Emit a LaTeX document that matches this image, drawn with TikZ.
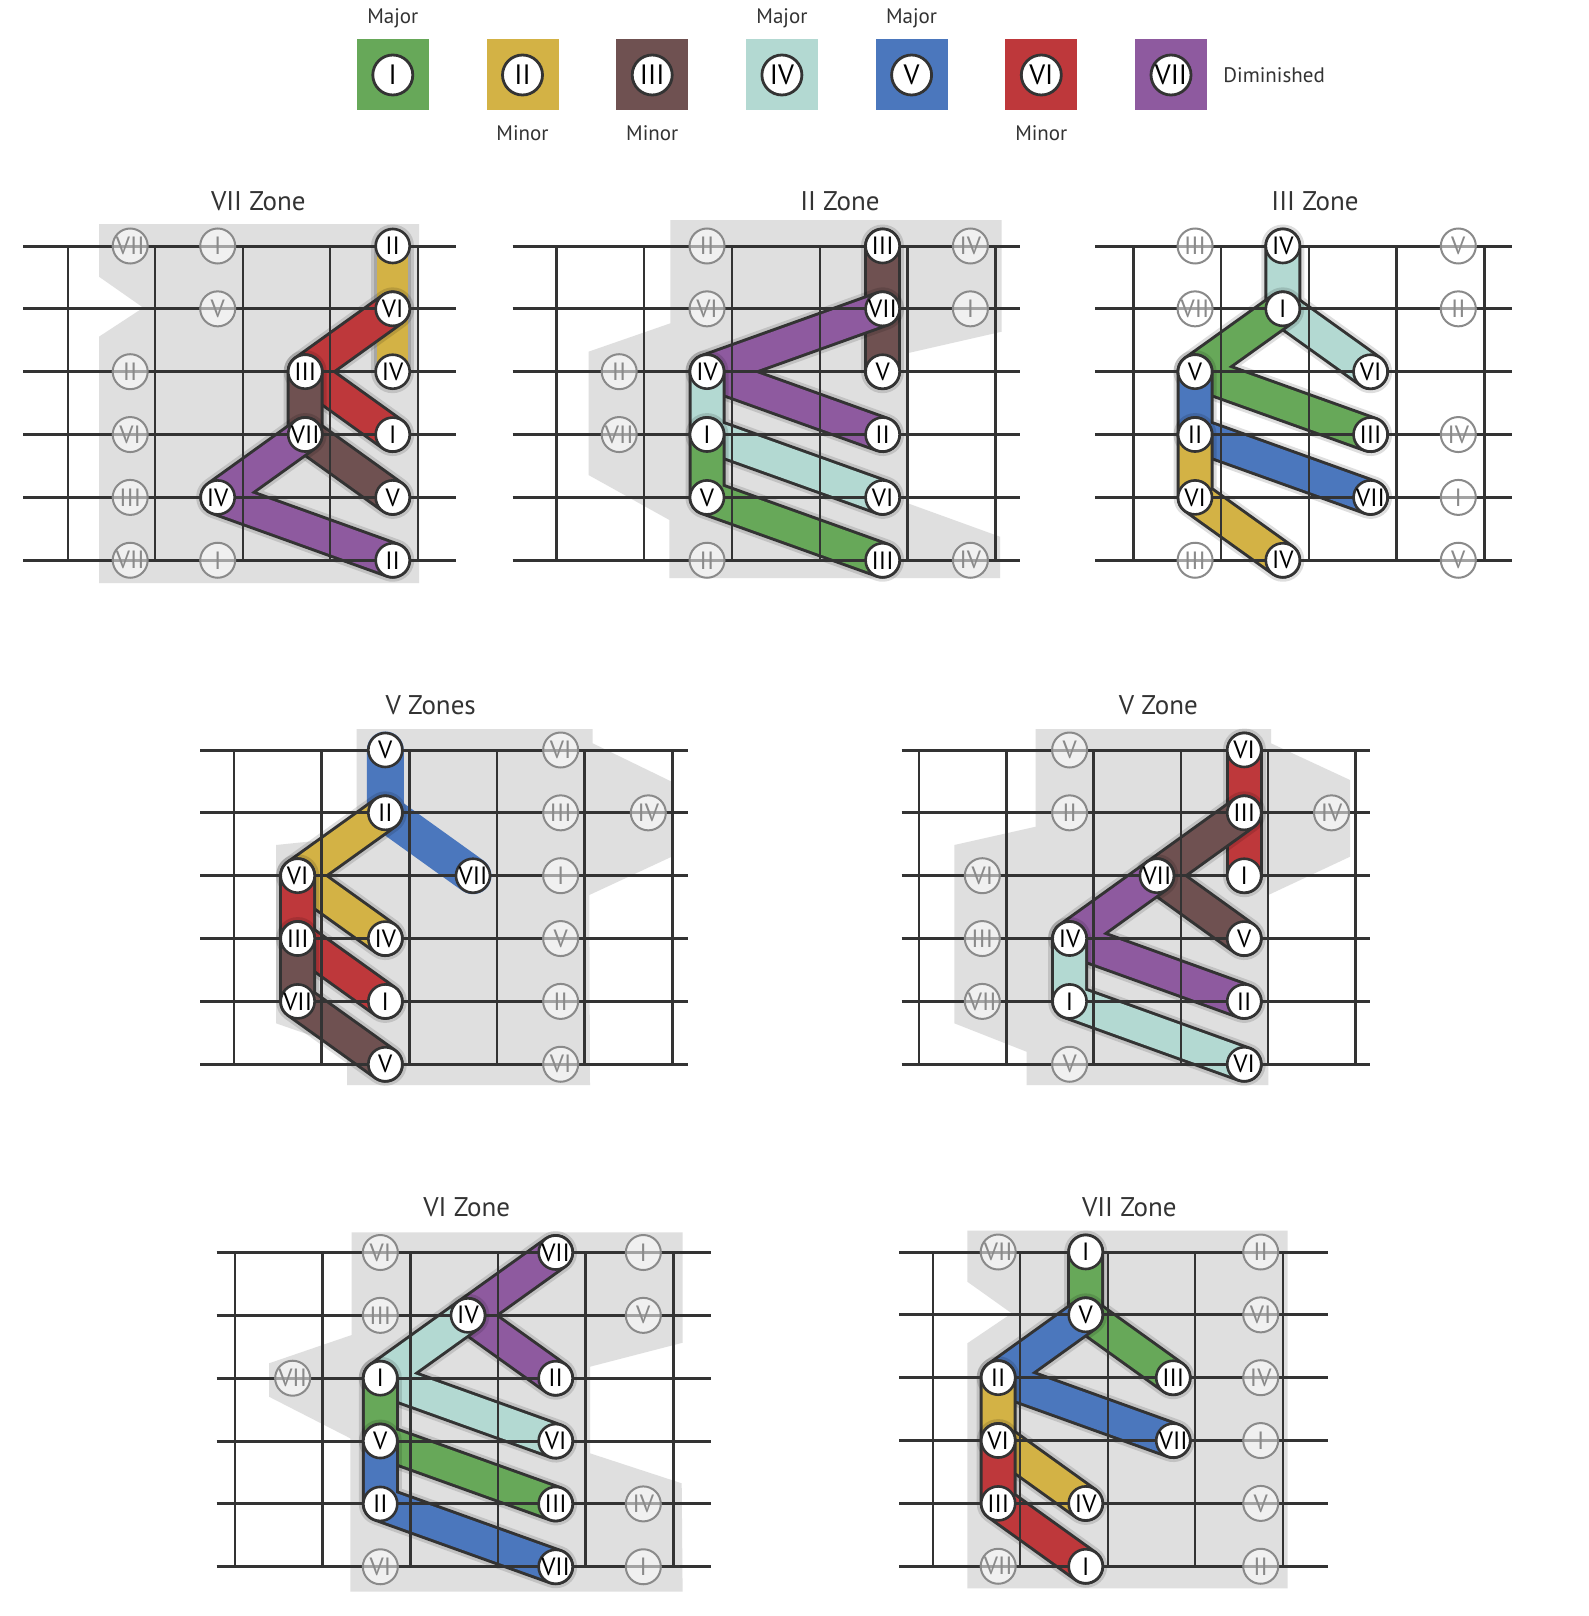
\documentclass[tikz,border=0pt]{standalone}
\usepackage{fontspec}
\setmainfont{PT Sans}
\usetikzlibrary{positioning}
\pgfdeclarelayer{zone}
\pgfdeclarelayer{bands}
\pgfdeclarelayer{grid}
\pgfsetlayers{zone,bands,grid,main}
\definecolor{cI}{HTML}{67A859}
\definecolor{cII}{HTML}{D3B245}
\definecolor{cIII}{HTML}{6F5151}
\definecolor{cIV}{HTML}{B3D9D2}
\definecolor{cV}{HTML}{4B77BD}
\definecolor{cVI}{HTML}{BE383B}
\definecolor{cVII}{HTML}{8E5A9F}
\definecolor{ink}{HTML}{333333}
\definecolor{ghostgray}{HTML}{8A8A8A}
\definecolor{zonegray}{HTML}{DFDFDF}
\newcommand{\notefont}{\fontsize{25}{25}\selectfont}
\newcommand{\sgap}{62.85}
\tikzset{
    stringline/.style={line width=3pt, draw=ink},
    fretline/.style={line width=2.4pt, draw=ink},
    zone/.style={fill=zonegray},
    note/.style={circle, draw=ink, line width=2.6pt, fill=white, minimum size=34pt, inner sep=0pt, font=\notefont, text=black},
    ghost/.style={circle, draw=ghostgray, line width=2pt, fill=white, fill opacity=0.55, text opacity=1, text=ghostgray, minimum size=35pt, inner sep=0pt, font=\notefont},
    band/.style={draw=ink, line width=3pt, double=#1, double distance=31pt, line cap=round, line join=round,
        preaction={draw=black, draw opacity=0.13, line width=43pt, line cap=round, line join=round}},
    flatband/.style={draw=#1, line width=37pt, line cap=round, line join=round},
    keybox/.style={rectangle, minimum width=72pt, minimum height=71pt, inner sep=0pt},
    keynum/.style={circle, draw=ink, line width=2.8pt, fill=white, minimum size=40pt, inner sep=0pt, font=\fontsize{28}{28}\selectfont},
    keylabel/.style={font=\fontsize{21}{21}\selectfont, text=ink, inner sep=0pt},
    zonetitle/.style={font=\fontsize{27}{27}\selectfont, text=ink, inner sep=0pt},
}
% strings and frets of one board: left end, right end, last fret
\newcommand{\fretgrid}[3]{%
  \begin{pgfonlayer}{grid}
    \foreach \sn in {0,...,5}
      \draw[stringline] (#1,\sn*\sgap) -- (#2,\sn*\sgap);
    \foreach \k in {0,...,#3}
      \draw[fretline] (\k*\fgap,0) -- (\k*\fgap,5*\sgap);
  \end{pgfonlayer}%
}

\begin{document}
\begin{tikzpicture}[x=1pt, y=-1pt]
\useasboundingbox (0,0) rectangle (1588,1616);

% Zones
\begin{pgfonlayer}{zone}
  \fill[white] (0,0) rectangle (1588,1616);
  \fill[zone] (99,224) -- (419,224) -- (419,583) -- (99,583) -- (99,336.7) -- (143.3,307.7) -- (99,276.7) -- cycle;
  \fill[zone] (670.4,220) -- (1001.7,220) -- (1001.7,331.7) -- (907,353.3) -- (907,503) -- (1000,536.7) -- (1000,578) -- (669.4,578) -- (669.4,520) -- (588.5,475) -- (588.5,351.7) -- (670.4,323.3) -- cycle;
  \fill[zone] (356.7,729) -- (592.7,729) -- (592.7,743.3) -- (671.7,781.7) -- (671.7,856.7) -- (589.3,895) -- (590,1085) -- (347,1085) -- (347,1048) -- (276,1023.3) -- (276,845) -- (356.7,836.7) -- cycle;
  \fill[zone] (1035.7,729) -- (1271,729) -- (1271,743.3) -- (1350,780) -- (1350,856.7) -- (1268.3,895) -- (1268.3,1085) -- (1026.5,1085) -- (1026.5,1051.7) -- (954.3,1023.3) -- (954.3,845) -- (1035.7,826.7) -- cycle;
  \fill[zone] (351.7,1232.3) -- (682.7,1232.3) -- (682.7,1342.7) -- (590,1366.7) -- (590,1453.3) -- (681.7,1483.3) -- (682.6,1591.7) -- (350.3,1591.7) -- (350.3,1438.3) -- (269,1396.7) -- (269,1363.3) -- (351.7,1335) -- cycle;
  \fill[zone] (967.3,1230.7) -- (1287.7,1230.7) -- (1287.7,1588.3) -- (967.3,1588.3) -- (967.3,1343.3) -- (1011.7,1313.3) -- (967.3,1281.7) -- cycle;
\end{pgfonlayer}

% Key
\foreach \dg [count=\i from 0] in {I,II,III,IV,V,VI,VII} {
  \node[keybox, fill=c\dg] (k\dg) at ({392.8+\i*129.7},75) {};
  \node[keynum] (kn\dg) at (k\dg.center) {\dg};
}
\node[keylabel, above=11pt of kI] (qI) {Major};
\node[keylabel, above=11pt of kIV] (qIV) {Major};
\node[keylabel, above=11pt of kV] (qV) {Major};
\node[keylabel, below=15pt of kII] (qII) {Minor};
\node[keylabel, below=15pt of kIII] (qIII) {Minor};
\node[keylabel, below=15pt of kVI] (qVI) {Minor};
\node[keylabel, right=16pt of kVII] (qVII) {Diminished};

% Titles
\node[zonetitle] (tA) at (258.3,201.7) {VII Zone};
\node[zonetitle] (tB) at (839.9,201.7) {II Zone};
\node[zonetitle] (tC) at (1315,201.7) {III Zone};
\node[zonetitle] (tD) at (430.7,705) {V Zones};
\node[zonetitle] (tE) at (1158.3,705) {V Zone};
\node[zonetitle] (tF) at (466.7,1206.7) {VI Zone};
\node[zonetitle] (tG) at (1129.3,1206.7) {VII Zone};

% VII zone (top)
\begin{scope}[shift={(67.7,246)}]
  \def\fgap{87.5}\def\noff{25}
  \fretgrid{-44.4}{388.3}{4}
  \foreach \fc/\sn/\lab in {1/1/VII,1/3/II,1/4/VI,1/5/III,1/6/VII,2/1/I,2/2/V,2/6/I}
    \node[ghost] (A-g\fc\sn) at ({\fc*\fgap-\noff},{(\sn-1)*\sgap}) {\lab};
  \foreach \fc/\sn/\lab in {2/5/IV,3/3/III,3/4/VII,4/1/II,4/2/VI,4/3/IV,4/4/I,4/5/V,4/6/II}
    \node[note] (A-\fc-\sn) at ({\fc*\fgap-\noff},{(\sn-1)*\sgap}) {\lab};
  \begin{pgfonlayer}{bands}
    \draw[band=cII, draw=gray!70] (A-4-1.center) -- (A-4-3.center);
    \draw[band=cVI] (A-4-2.center) -- (A-3-3.center) -- (A-4-4.center);
    \draw[band=cIII] (A-3-3.center) -- (A-3-4.center) -- (A-4-5.center);
    \draw[band=cVII] (A-3-4.center) -- (A-2-5.center) -- (A-4-6.center);
  \end{pgfonlayer}
\end{scope}

% II zone
\begin{scope}[shift={(556.4,246)}]
  \def\fgap{87.8}\def\noff{25}
  \fretgrid{-43.7}{464}{5}
  \foreach \fc/\sn/\lab in {1/3/II,1/4/VII,2/1/II,2/2/VI,2/6/II,5/1/IV,5/2/I,5/6/IV}
    \node[ghost] (B-g\fc\sn) at ({\fc*\fgap-\noff},{(\sn-1)*\sgap}) {\lab};
  \foreach \fc/\sn/\lab in {2/3/IV,2/4/I,2/5/V,4/1/III,4/2/VII,4/3/V,4/4/II,4/5/VI,4/6/III}
    \node[note] (B-\fc-\sn) at ({\fc*\fgap-\noff},{(\sn-1)*\sgap}) {\lab};
  \begin{pgfonlayer}{bands}
    \draw[band=cIII] (B-4-1.center) -- (B-4-3.center);
    \draw[band=cVII] (B-4-2.center) -- (B-2-3.center) -- (B-4-4.center);
    \draw[band=cIV] (B-2-3.center) -- (B-2-4.center) -- (B-4-5.center);
    \draw[band=cI] (B-2-4.center) -- (B-2-5.center) -- (B-4-6.center);
  \end{pgfonlayer}
\end{scope}

% III zone
\begin{scope}[shift={(1133.3,246)}]
  \def\fgap{87.75}\def\noff{26}
  \fretgrid{-38.3}{378.4}{4}
  \foreach \fc/\sn/\lab in {1/1/III,1/2/VII,1/6/III,4/1/V,4/2/II,4/4/IV,4/5/I,4/6/V}
    \node[ghost] (C-g\fc\sn) at ({\fc*\fgap-\noff},{(\sn-1)*\sgap}) {\lab};
  \foreach \fc/\sn/\lab in {1/3/V,1/4/II,1/5/VI,2/1/IV,2/2/I,2/6/IV,3/3/VI,3/4/III,3/5/VII}
    \node[note] (C-\fc-\sn) at ({\fc*\fgap-\noff},{(\sn-1)*\sgap}) {\lab};
  \begin{pgfonlayer}{bands}
    \draw[band=cIV] (C-2-1.center) -- (C-2-2.center) -- (C-3-3.center);
    \draw[band=cI] (C-2-2.center) -- (C-1-3.center) -- (C-3-4.center);
    \draw[band=cV] (C-1-3.center) -- (C-1-4.center) -- (C-3-5.center);
    \draw[band=cII] (C-1-4.center) -- (C-1-5.center) -- (C-2-6.center);
  \end{pgfonlayer}
\end{scope}

% V zones
\begin{scope}[shift={(234,750)}]
  \def\fgap{87.66}\def\noff{24}
  \fretgrid{-34}{454}{5}
  \foreach \fc/\sn/\lab in {4/1/VI,4/2/III,4/3/I,4/4/V,4/5/II,4/6/VI,5/2/IV}
    \node[ghost] (D-g\fc\sn) at ({\fc*\fgap-\noff},{(\sn-1)*\sgap}) {\lab};
  \foreach \fc/\sn/\lab in {1/3/VI,1/4/III,1/5/VII,2/1/V,2/2/II,2/4/IV,2/5/I,2/6/V,3/3/VII}
    \node[note] (D-\fc-\sn) at ({\fc*\fgap-\noff},{(\sn-1)*\sgap}) {\lab};
  \begin{pgfonlayer}{bands}
    \draw[flatband=cV] (D-2-1.center) -- (D-2-2.center) -- (D-3-3.center);
    \draw[band=cII] (D-2-2.center) -- (D-1-3.center) -- (D-2-4.center);
    \draw[band=cVI] (D-1-3.center) -- (D-1-4.center) -- (D-2-5.center);
    \draw[band=cIII] (D-1-4.center) -- (D-1-5.center) -- (D-2-6.center);
  \end{pgfonlayer}
\end{scope}

% V zone
\begin{scope}[shift={(919,750)}]
  \def\fgap{87.3}\def\noff{24}
  \fretgrid{-17.3}{451}{5}
  \foreach \fc/\sn/\lab in {1/3/VI,1/4/III,1/5/VII,2/1/V,2/2/II,2/6/V,5/2/IV}
    \node[ghost] (E-g\fc\sn) at ({\fc*\fgap-\noff},{(\sn-1)*\sgap}) {\lab};
  \foreach \fc/\sn/\lab in {2/4/IV,2/5/I,3/3/VII,4/1/VI,4/2/III,4/3/I,4/4/V,4/5/II,4/6/VI}
    \node[note] (E-\fc-\sn) at ({\fc*\fgap-\noff},{(\sn-1)*\sgap}) {\lab};
  \begin{pgfonlayer}{bands}
    \draw[band=cVI] (E-4-1.center) -- (E-4-3.center);
    \draw[band=cIII] (E-4-2.center) -- (E-3-3.center) -- (E-4-4.center);
    \draw[band=cVII] (E-3-3.center) -- (E-2-4.center) -- (E-4-5.center);
    \draw[band=cIV] (E-2-4.center) -- (E-2-5.center) -- (E-4-6.center);
  \end{pgfonlayer}
\end{scope}

% VI zone
\begin{scope}[shift={(235,1252.5)}]
  \def\fgap{87.66}\def\noff{30}
  \fretgrid{-18.3}{476}{5}
  \foreach \fc/\sn/\lab in {1/3/VII,2/1/VI,2/2/III,2/6/VI,5/1/I,5/2/V,5/5/IV,5/6/I}
    \node[ghost] (F-g\fc\sn) at ({\fc*\fgap-\noff},{(\sn-1)*\sgap}) {\lab};
  \foreach \fc/\sn/\lab in {2/3/I,2/4/V,2/5/II,3/2/IV,4/1/VII,4/3/II,4/4/VI,4/5/III,4/6/VII}
    \node[note] (F-\fc-\sn) at ({\fc*\fgap-\noff},{(\sn-1)*\sgap}) {\lab};
  \begin{pgfonlayer}{bands}
    \draw[band=cVII] (F-4-1.center) -- (F-3-2.center) -- (F-4-3.center);
    \draw[band=cIV] (F-3-2.center) -- (F-2-3.center) -- (F-4-4.center);
    \draw[band=cI] (F-2-3.center) -- (F-2-4.center) -- (F-4-5.center);
    \draw[band=cV] (F-2-4.center) -- (F-2-5.center) -- (F-4-6.center);
  \end{pgfonlayer}
\end{scope}

% VII zone (bottom)
\begin{scope}[shift={(932.7,1252)}]
  \def\fgap{87.5}\def\noff{22}
  \fretgrid{-33.4}{395.3}{4}
  \foreach \fc/\sn/\lab in {1/1/VII,1/6/VII,4/1/II,4/2/VI,4/3/IV,4/4/I,4/5/V,4/6/II}
    \node[ghost] (G-g\fc\sn) at ({\fc*\fgap-\noff},{(\sn-1)*\sgap}) {\lab};
  \foreach \fc/\sn/\lab in {1/3/II,1/4/VI,1/5/III,2/1/I,2/2/V,2/5/IV,2/6/I,3/3/III,3/4/VII}
    \node[note] (G-\fc-\sn) at ({\fc*\fgap-\noff},{(\sn-1)*\sgap}) {\lab};
  \begin{pgfonlayer}{bands}
    \draw[band=cI] (G-2-1.center) -- (G-2-2.center) -- (G-3-3.center);
    \draw[band=cV] (G-2-2.center) -- (G-1-3.center) -- (G-3-4.center);
    \draw[band=cII] (G-1-3.center) -- (G-1-4.center) -- (G-2-5.center);
    \draw[band=cVI] (G-1-4.center) -- (G-1-5.center) -- (G-2-6.center);
  \end{pgfonlayer}
\end{scope}
\end{tikzpicture}
\end{document}
